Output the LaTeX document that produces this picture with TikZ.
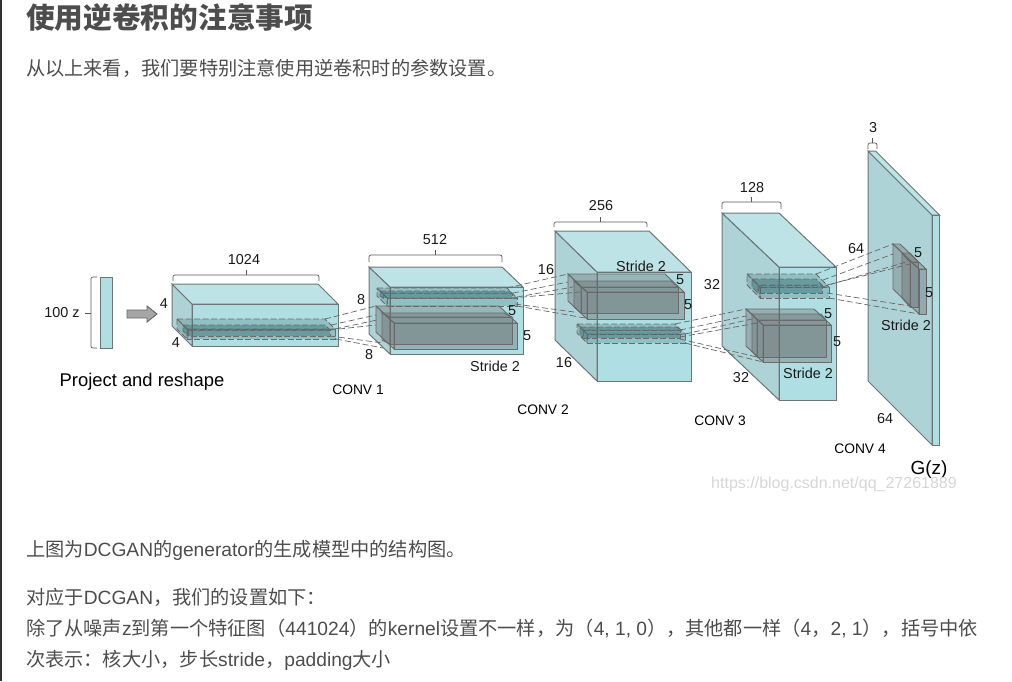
\documentclass[tikz,border=0pt]{standalone}
\usepackage{fontspec}
\usepackage{tikz}
\setmainfont{Liberation Sans}
\newfontfamily\cjk{Noto Sans CJK SC}
\newcommand{\lat}[1]{{\rmfamily #1}}
\definecolor{inktext}{HTML}{4D4D4D}
\definecolor{edgegray}{HTML}{6B7678}
\definecolor{layerleft}{RGB}{174,211,215}
\definecolor{layerup}{RGB}{189,227,230}
\definecolor{layerface}{RGB}{176,223,227}
\definecolor{kernelgray}{RGB}{100,100,100}
\definecolor{kernelteal}{RGB}{50,105,110}
\newcommand{\cuboid}[7]{%
  \draw[#1side] (#2,#3) -- ++(#6,#7) -- ++(0,#5) -- ++(-#6,-#7) -- cycle;
  \draw[#1top] (#2,#3) -- ++(#4,0) -- ++(#6,#7) -- ++(-#4,0) -- cycle;
  \draw[#1front] (#2,#3) ++(#6,#7) rectangle ++(#4,#5);
}
\newcommand{\bracket}[4]{%
  \draw[bracketline] (#1,#4) [rounded corners=2pt] -- (#1,#3) -- (#2,#3) -- (#2,#4);
  \draw[bracketline] ({(#1+#2)/2},#3) -- ++(0,-5);
}
\tikzset{
  layerside/.style={draw=edgegray, line width=1pt, fill=layerleft},
  layertop/.style={draw=edgegray, line width=1pt, fill=layerup},
  layerfront/.style={draw=edgegray, line width=1pt, fill=layerface},
  solidside/.style={draw=black!58, line width=.9pt, fill=kernelgray, fill opacity=.33},
  solidtop/.style={draw=black!58, line width=.9pt, fill=kernelgray, fill opacity=.33},
  solidfront/.style={draw=black!58, line width=.9pt, fill=kernelgray, fill opacity=.36},
  dashedside/.style={draw=black!58, dash pattern=on 6pt off 2.5pt, line width=.8pt, fill=kernelteal, fill opacity=.26},
  dashedtop/.style={draw=black!58, dash pattern=on 6pt off 2.5pt, line width=.8pt, fill=kernelteal, fill opacity=.26},
  dashedfront/.style={draw=black!58, dash pattern=on 6pt off 2.5pt, line width=.8pt, fill=kernelteal, fill opacity=.26},
  bandside/.style={dashedside, fill opacity=.42},
  bandtop/.style={dashedtop, fill opacity=.42},
  bandfront/.style={dashedfront, fill opacity=.42},
  bracketline/.style={draw=black!65, line width=.7pt},
  projline/.style={draw=black!60, dash pattern=on 6pt off 3pt, line width=.7pt},
  dimlabel/.style={font=\fontsize{14.4}{15}\selectfont, text=black!90, inner sep=0pt, yshift=-1pt},
  convlabel/.style={font=\fontsize{13.8}{14}\selectfont, text=black, inner sep=0pt, yshift=-.5pt},
  bodytext/.style={anchor=west, inner sep=0pt, text=inktext, font=\fontsize{19.2}{20}\selectfont\cjk},
}
\begin{document}
\begin{tikzpicture}[x=1pt, y=-1pt]
  \useasboundingbox (0,0) rectangle (1012,681);
  \fill[black!80] (0,0) rectangle (2,681);

  \node[bodytext, font=\fontsize{28.7}{30}\selectfont\cjk\bfseries] (title) at (26,18) {使用逆卷积的注意事项};
  \node[bodytext] (intro) at (26,68) {从以上来看，我们要特别注意使用逆卷积时的参数设置。};
  \node[bodytext] (caption) at (26,550.5) {上图为\lat{DCGAN}的\lat{generator}的生成模型中的结构图。};
  \node[bodytext] (lineone) at (26,597) {对应于\lat{DCGAN}，我们的设置如下：};
  \node[bodytext] (linetwo) at (26,628.5) {除了从噪声\lat{z}到第一个特征图（\lat{441024}）的\lat{kernel}设置不一样，为（\lat{4, 1, 0}），其他都一样（\lat{4}，\lat{2, 1}），括号中依};
  \node[bodytext] (linethree) at (26,660.5) {次表示：核大小，步长\lat{stride}，\lat{padding}大小};

  \draw[layerfront] (100,277) rectangle (112,348);
  \draw[bracketline] (97,348) [rounded corners=2pt] -- (91,348) -- (91,277) -- (97,277);
  \draw[bracketline] (91,313) -- (85,313);
  \draw[draw=black!60, line width=.9pt, fill=black!35] (127,310) -- (147,310) -- (147,306) -- (157,314) -- (147,322) -- (147,318) -- (127,318) -- cycle;

  \cuboid{layer}{172}{284}{146}{42}{20}{20}
  \cuboid{layer}{369}{267}{133}{67}{21}{20}
  \cuboid{layer}{555}{231}{94}{109}{42}{41}
  \cuboid{layer}{722}{213}{57}{133}{57}{54}
  \cuboid{layer}{868}{151}{7.5}{230}{64}{64}

  \cuboid{dashed}{177}{319}{148}{10}{10}{10}
  \cuboid{band}{183}{325}{142}{6}{5}{5}

  \cuboid{dashed}{377}{288}{130}{8}{10}{10}
  \cuboid{band}{380}{291}{129}{5}{3}{2}
  \cuboid{solid}{376}{306}{123}{26}{18}{17}
  \cuboid{solid}{382}{313}{122}{27}{8}{4}

  \cuboid{solid}{568}{274}{97}{27}{19}{18}
  \cuboid{solid}{574}{281}{97}{26}{7}{6}
  \cuboid{dashed}{577}{324}{98}{9}{10}{10}
  \cuboid{band}{580}{327}{97}{8}{3}{3}

  \cuboid{dashed}{747}{274}{69}{11}{13}{13}
  \cuboid{band}{752}{279}{64}{8}{6}{6}
  \cuboid{solid}{746}{309}{68}{37}{17}{16}
  \cuboid{solid}{752}{314}{69}{37}{5}{6}

  \cuboid{solid}{893}{244}{7}{45}{26}{25}
  \cuboid{solid}{902}{253}{8}{45}{8}{9}

  \foreach \ax/\ay/\bx/\by in {325/319/376/306, 331/325/376/315, 335/329/377/320, 330/330/376/325,
      330/336/383/343, 336/339/383/348,
      507/288/568/274, 513/293/568/282, 517/297/573/287, 512/298/580/292,
      515/304/574/312, 517/306/585/318,
      675/324/746/309, 680/330/746/316, 685/334/752/319, 680/337/757/323,
      680/339/757/357, 685/343/763/362,
      816/274/893/244, 823/280/893/254, 827/285/910/264, 822/287/906/262,
      827/293/910/306, 829/298/919/314}
    \draw[projline] (\ax,\ay) -- (\bx,\by);

  \bracket{173}{319}{275}{281}
  \bracket{369}{502}{255}{262}
  \bracket{554}{647}{222}{227}
  \bracket{722}{781}{202}{209}
  \bracket{868}{877}{143}{149}

  \node[dimlabel] (inputsize) at (62,312) {100 z};
  \node[dimlabel] (widthzero) at (244,259) {1024};
  \node[dimlabel] (highzero) at (164,303) {4};
  \node[dimlabel] (deepzero) at (176,342) {4};
  \node[inner sep=0pt, font=\fontsize{18.4}{19}\selectfont] (projlabel) at (142,382) {Project and reshape};

  \node[dimlabel] (widthone) at (435,239) {512};
  \node[dimlabel] (highone) at (361,299) {8};
  \node[dimlabel] (deepone) at (369,354) {8};
  \node[dimlabel] (kernelonea) at (512,310) {5};
  \node[dimlabel] (kerneloneb) at (527,335) {5};
  \node[dimlabel] (strideone) at (495,365) {Stride 2};
  \node[convlabel] (convone) at (358,389) {CONV 1};

  \node[dimlabel] (widthtwo) at (601,205) {256};
  \node[dimlabel] (hightwo) at (546,269) {16};
  \node[dimlabel] (deeptwo) at (564,362) {16};
  \node[dimlabel] (kerneltwoa) at (680,279) {5};
  \node[dimlabel] (kerneltwob) at (688,304) {5};
  \node[dimlabel] (stridetwo) at (641,265) {Stride 2};
  \node[convlabel] (convtwo) at (543,409) {CONV 2};

  \node[dimlabel] (widththree) at (752,187) {128};
  \node[dimlabel] (highthree) at (712,284) {32};
  \node[dimlabel] (deepthree) at (741,377) {32};
  \node[dimlabel] (kernelthreea) at (828,313) {5};
  \node[dimlabel] (kernelthreeb) at (837,341) {5};
  \node[dimlabel] (stridethree) at (808,372) {Stride 2};
  \node[convlabel] (convthree) at (720,420) {CONV 3};

  \node[dimlabel] (widthfour) at (873,127) {3};
  \node[dimlabel] (highfour) at (856,248) {64};
  \node[dimlabel] (deepfour) at (885,418) {64};
  \node[dimlabel] (kernelfoura) at (918,252) {5};
  \node[dimlabel] (kernelfourb) at (929,292) {5};
  \node[dimlabel] (stridefour) at (906,324) {Stride 2};
  \node[convlabel] (convfour) at (860,448) {CONV 4};
  \node[inner sep=0pt, font=\fontsize{19}{20}\selectfont] (output) at (929,470) {G(z)};

  \node[inner sep=0pt, text=black!16, font=\fontsize{16}{16}\selectfont] (watermark) at (834,484) {https://blog.csdn.net/qq\_27261889};
\end{tikzpicture}
\end{document}
